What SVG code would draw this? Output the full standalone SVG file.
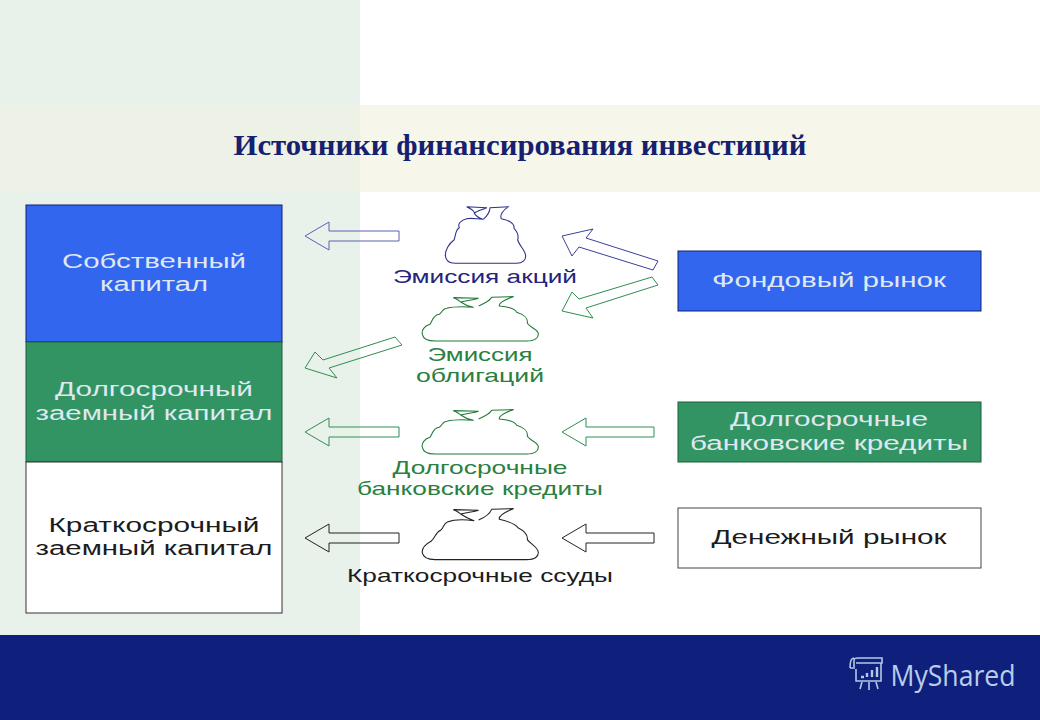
<svg xmlns="http://www.w3.org/2000/svg" width="1040" height="720" viewBox="0 0 1040 720">
<style>
text{font-family:"Liberation Sans",Arial,sans-serif;text-anchor:middle}
.w{fill:#dfe8f0}.k{fill:#1c1c1c}.n{fill:#24247c}.g{fill:#2a8040}
.box{stroke-width:1}
.ar{fill:none;stroke-width:1}
.bag{stroke-width:3.2;stroke-linejoin:round}
</style>
<defs>
<path id="arrow" d="M0 0L24 -14V-5H94V5H24V14Z"/>
<path id="arrowS" d="M0 0L24 -14V-5H92V5H24V14Z"/>
<path id="bagA" d="M530 35L590 38C575 45 560 48 553 55C558 65 570 70 578 73C560 72 545 68 530 71C510 76 503 88 508 98C495 105 498 122 492 135C478 145 465 165 466 182C468 198 480 205 495 205H680C698 205 708 195 707 182C705 165 690 155 683 135C688 120 678 105 672 100C675 85 655 75 634 71C628 60 640 45 656 35L600 38C600 50 592 62 580 73M530 35C545 42 555 48 553 55"/>
<path id="bagB" d="M490 308L565 310C552 315 530 316 512 321C525 330 540 335 550 337C525 335 490 335 470 340C455 342 458 352 448 358C428 360 428 378 420 388C405 392 394 405 397 418C400 432 415 438 435 438H710C735 438 746 428 745 416C744 402 722 400 712 385C715 370 700 358 680 352C675 340 650 335 628 333C625 322 650 312 670 305L605 307C600 318 582 326 566 333M490 308C500 312 508 316 512 321"/>
<path id="bagC" d="M490 308L565 310C552 315 530 316 512 321C525 330 540 337 552 341C525 337 490 338 472 345C460 350 462 362 452 370C436 376 436 392 424 402C406 412 395 425 397 438C400 452 415 458 435 458H710C735 458 746 448 745 436C744 420 722 412 712 398C715 380 700 370 684 362C675 348 650 342 628 337C625 325 650 313 670 305L605 307C600 320 582 332 566 339M490 308C500 312 508 316 512 321"/>
</defs>
<rect width="1040" height="720" fill="#fff"/>
<rect width="360" height="635" fill="#e9f1eb"/>
<rect y="105" width="360" height="87" fill="#eef1e6"/>
<rect x="360" y="105" width="680" height="87" fill="#f7f6ea"/>
<rect y="635" width="1040" height="85" fill="#0f1f7c"/>
<text x="520" y="155" textLength="573" lengthAdjust="spacingAndGlyphs" style="font-family:'Liberation Serif','Times New Roman',serif;font-size:29px;font-weight:bold;fill:#15216f">Источники финансирования инвестиций</text>
<g id="connectors" class="ar">
<use href="#arrow" transform="translate(305 236)" stroke="#5a62b4"/>
<use href="#arrow" transform="translate(305 432)" stroke="#2f8f4e"/>
<use href="#arrow" transform="translate(305 538)" stroke="#222"/>
<use href="#arrowS" transform="translate(562 432)" stroke="#2f8f4e"/>
<use href="#arrowS" transform="translate(562 538)" stroke="#222"/>
<path stroke="#3a3f9c" d="M562 236L593 229L586 238L658 261L653 270L579 247L572 256Z"/>
<path stroke="#2f8f4e" d="M562 311L572 292L579 299L652 277L658 285L586 308L593 318Z"/>
<path stroke="#2f8f4e" d="M305 368L315 352L323 360L395 337L402 345L329 368L337 378Z"/>
</g>
<g id="node-own-capital">
<rect class="box" x="26" y="205" width="256" height="137" fill="#3366ee" stroke="#10207a"/>
<text class="w" x="154" y="268" font-size="20" textLength="184" lengthAdjust="spacingAndGlyphs">Собственный</text>
<text class="w" x="154" y="291" font-size="20" textLength="108" lengthAdjust="spacingAndGlyphs">капитал</text>
</g>
<g id="node-long-capital">
<rect class="box" x="26" y="342" width="256" height="120" fill="#339463" stroke="#1d5f3c"/>
<text class="w" x="154" y="396" font-size="20" textLength="198" lengthAdjust="spacingAndGlyphs">Долгосрочный</text>
<text class="w" x="154" y="420" font-size="20" textLength="237" lengthAdjust="spacingAndGlyphs">заемный капитал</text>
</g>
<g id="node-short-capital">
<rect class="box" x="26" y="462" width="256" height="151" fill="#fff" stroke="#333"/>
<text class="k" x="154" y="532" font-size="20" textLength="211" lengthAdjust="spacingAndGlyphs">Краткосрочный</text>
<text class="k" x="154" y="555" font-size="20" textLength="237" lengthAdjust="spacingAndGlyphs">заемный капитал</text>
</g>
<g id="node-stock-market">
<rect class="box" x="678" y="251" width="303" height="60" fill="#3366ee" stroke="#10207a"/>
<text class="w" x="829" y="287" font-size="20" textLength="234" lengthAdjust="spacingAndGlyphs">Фондовый рынок</text>
</g>
<g id="node-bank-credit">
<rect class="box" x="678" y="402" width="303" height="60" fill="#339463" stroke="#1d5f3c"/>
<text class="w" x="829" y="426" font-size="20" textLength="198" lengthAdjust="spacingAndGlyphs">Долгосрочные</text>
<text class="w" x="829" y="450" font-size="20" textLength="278" lengthAdjust="spacingAndGlyphs">банковские кредиты</text>
</g>
<g id="node-money-market">
<rect class="box" x="678" y="508" width="303" height="60" fill="#fff" stroke="#444"/>
<text class="k" x="829" y="544" font-size="20" textLength="235" lengthAdjust="spacingAndGlyphs">Денежный рынок</text>
</g>
<g id="node-shares">
<use href="#bagA" class="bag" fill="none" stroke="#2a2f8c" transform="translate(290 195) scale(.3333)"/>
<text class="n" x="485" y="283" font-size="19" textLength="184" lengthAdjust="spacingAndGlyphs">Эмиссия акций</text>
</g>
<g id="node-bonds">
<use href="#bagB" class="bag" fill="none" stroke="#1f7a35" transform="translate(290 195) scale(.3333)"/>
<text class="g" x="480" y="361" font-size="19" textLength="105" lengthAdjust="spacingAndGlyphs">Эмиссия</text>
<text class="g" x="480" y="382" font-size="19" textLength="128" lengthAdjust="spacingAndGlyphs">облигаций</text>
</g>
<g id="node-credits">
<use href="#bagB" class="bag" fill="none" stroke="#1f7a35" transform="translate(290 308) scale(.3333)"/>
<text class="g" x="480" y="474" font-size="19" textLength="175" lengthAdjust="spacingAndGlyphs">Долгосрочные</text>
<text class="g" x="480" y="495" font-size="19" textLength="246" lengthAdjust="spacingAndGlyphs">банковские кредиты</text>
</g>
<g id="node-loans">
<use href="#bagC" class="bag" fill="none" stroke="#222" transform="translate(290 407) scale(.3333)"/>
<text class="k" x="480" y="582" font-size="19" textLength="266" lengthAdjust="spacingAndGlyphs">Краткосрочные ссуды</text>
</g>
<g id="logo" fill="none" stroke="#b4c8e6" stroke-width="1.6">
<path d="M854 667V660C854 658 856 658 858 658H882V663H856M858 663H881V681H856V669M850 668C850 660 852 658 854 658M850 668H855"/>
<path d="M860 689L862 682M869 690V682M878 689L876 682"/>
<path d="M861 677H864M867 677V673M872 677V670M877 677V667" stroke-width="2.4"/>
<text x="953" y="686" stroke="none" fill="#b9cdeb" textLength="125" lengthAdjust="spacingAndGlyphs" style="font-family:'Open Sans','Noto Sans',sans-serif;font-size:29px">MyShared</text>
</g>
</svg>
